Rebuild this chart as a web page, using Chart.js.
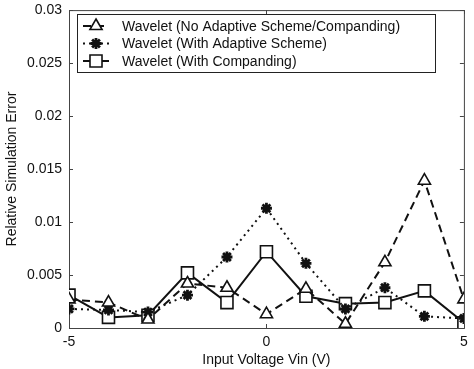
<!DOCTYPE html>
<html>
<head>
<meta charset="utf-8">
<script src="https://cdn.jsdelivr.net/npm/chart.js@4"></script>
<style>
  html, body { margin: 0; padding: 0; background: #fff; }
  #wrap { width: 474px; height: 369px; }
</style>
</head>
<body>
<div id="wrap"><canvas id="chart" width="474" height="369"></canvas></div>
<script>
const voltages = [-5, -4, -3, -2, -1, 0, 1, 2, 3, 4, 5];
const noAdaptive = [0.0027, 0.0024, 0.0008, 0.0042, 0.0038, 0.0013, 0.0037, 0.0004, 0.0062, 0.0139, 0.0027];
const withAdaptive = [0.0018, 0.0017, 0.0015, 0.0031, 0.0067, 0.0113, 0.0061, 0.0018, 0.0038, 0.0011, 0.0009];
const withCompanding = [0.0031, 0.0010, 0.0012, 0.0052, 0.0024, 0.0072, 0.0030, 0.0023, 0.0024, 0.0035, 0.0005];
const seriesNames = [
    'Wavelet (No Adaptive Scheme/Companding)',
    'Wavelet (With Adaptive Scheme)',
    'Wavelet (With Companding)'
];
const xTicks = [-5, 0, 5];
const yTicks = [0, 0.005, 0.01, 0.015, 0.02, 0.025, 0.03];

const FONT = 'Liberation Sans, Arial, Helvetica, sans-serif';

function toPoints(values) {
    return voltages.map((v, i) => ({ x: v, y: values[i] }));
}

// MATLAB-like box with inward ticks on all four sides, plus boxed legend
const boxPlugin = {
    id: 'box',
    beforeDatasetsDraw(chart) {
        const { ctx, chartArea: a, scales } = chart;
        ctx.save();
        ctx.strokeStyle = '#444';
        ctx.lineWidth = 1;
        ctx.strokeRect(a.left + 0.5, a.top + 0.5, a.right - a.left, a.bottom - a.top);
        ctx.beginPath();
        xTicks.forEach(t => {
            const px = Math.round(scales.x.getPixelForValue(t)) + 0.5;
            ctx.moveTo(px, a.bottom); ctx.lineTo(px, a.bottom - 4);
            ctx.moveTo(px, a.top); ctx.lineTo(px, a.top + 4);
        });
        yTicks.forEach(t => {
            const py = Math.round(scales.y.getPixelForValue(t)) + 0.5;
            ctx.moveTo(a.left, py); ctx.lineTo(a.left + 4, py);
            ctx.moveTo(a.right, py); ctx.lineTo(a.right - 4, py);
        });
        ctx.stroke();
        ctx.restore();
    },
    afterDatasetsDraw(chart) {
        const { ctx } = chart;
        const bx = 77, by = 14, bw = 358, bh = 58;
        ctx.save();
        ctx.fillStyle = '#fff';
        ctx.fillRect(bx, by, bw, bh);
        ctx.strokeStyle = '#222';
        ctx.lineWidth = 1;
        ctx.strokeRect(bx + 0.5, by + 0.5, bw, bh);
        chart.data.datasets.forEach((ds, i) => {
            const y = by + 12 + i * 17.5;
            ctx.save();
            ctx.strokeStyle = '#111';
            ctx.lineWidth = ds.borderWidth;
            ctx.setLineDash(ds.borderDash || []);
            ctx.beginPath();
            ctx.moveTo(83, y); ctx.lineTo(109, y);
            ctx.stroke();
            ctx.restore();
            ctx.save();
            ctx.strokeStyle = '#111';
            ctx.fillStyle = '#fff';
            ctx.lineWidth = ds.pointBorderWidth;
            ctx.setLineDash([]);
            Chart.helpers.drawPoint(ctx, {
                pointStyle: ds.pointStyle,
                radius: ds.pointRadius,
                borderWidth: ds.pointBorderWidth
            }, 96, y);
            ctx.restore();
            ctx.fillStyle = '#111';
            ctx.font = '14px ' + FONT;
            ctx.textBaseline = 'middle';
            ctx.fillText(seriesNames[i], 122, y + 1);
        });
        ctx.restore();
    }
};

Chart.defaults.font.family = FONT;
Chart.defaults.color = '#111';

const common = {
    borderColor: '#111',
    pointBorderColor: '#111',
    backgroundColor: '#fff',
    pointBackgroundColor: '#fff',
    borderWidth: 2,
    fill: false,
    tension: 0
};

new Chart(document.getElementById('chart'), {
    type: 'line',
    data: {
        datasets: [
            Object.assign({}, common, {
                label: seriesNames[0],
                data: toPoints(noAdaptive),
                borderDash: [8, 5],
                pointStyle: 'triangle',
                pointRadius: 7,
                pointBorderWidth: 1.6
            }),
            Object.assign({}, common, {
                label: seriesNames[1],
                data: toPoints(withAdaptive),
                borderDash: [2, 4],
                pointStyle: 'star',
                pointRadius: 5.5,
                pointBorderWidth: 2.8
            }),
            Object.assign({}, common, {
                label: seriesNames[2],
                data: toPoints(withCompanding),
                pointStyle: 'rect',
                pointRadius: 8.5,
                pointBorderWidth: 1.6
            })
        ]
    },
    options: {
        responsive: false,
        animation: false,
        layout: { padding: { top: 8, right: 8, left: 4, bottom: 0 } },
        plugins: {
            legend: { display: false },
            tooltip: { enabled: false }
        },
        scales: {
            x: {
                type: 'linear',
                min: -5,
                max: 5,
                afterBuildTicks: s => { s.ticks = xTicks.map(v => ({ value: v })); },
                afterFit: s => { s.height = 41; s.paddingLeft = 0; s.paddingRight = 0; },
                grid: { display: false, drawTicks: false },
                border: { display: false },
                ticks: { font: { size: 14 }, padding: 6, maxRotation: 0 },
                title: { display: true, text: 'Input Voltage Vin (V)', font: { size: 14 }, padding: { top: 2, bottom: 0 } }
            },
            y: {
                min: 0,
                max: 0.03,
                afterBuildTicks: s => { s.ticks = yTicks.map(v => ({ value: v })); },
                afterFit: s => { s.width = 65; s.paddingTop = 0; s.paddingBottom = 0; },
                grid: { display: false, drawTicks: false },
                border: { display: false },
                ticks: { font: { size: 14 }, padding: 7, callback: v => String(v) },
                title: { display: true, text: 'Relative Simulation Error', font: { size: 14 }, padding: { top: 0, bottom: 2 } }
            }
        }
    },
    plugins: [boxPlugin]
});
</script>
</body>
</html>
